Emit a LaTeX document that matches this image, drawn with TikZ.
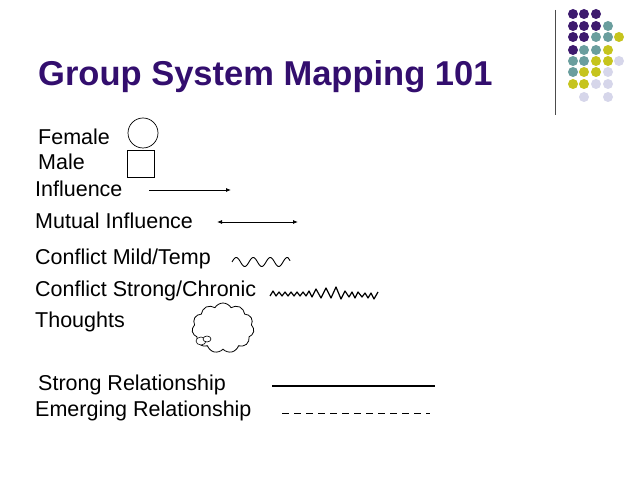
\documentclass[tikz,border=0pt]{standalone}
\usepackage{fontspec}
\setmainfont{Liberation Sans}
\usetikzlibrary{shapes.symbols,decorations.pathmorphing,arrows.meta}
\definecolor{tpurple}{HTML}{330E6E}
\definecolor{dP}{HTML}{3D1A6E}
\definecolor{dT}{HTML}{6A9E9E}
\definecolor{dY}{HTML}{C6C41E}
\definecolor{dL}{HTML}{D6D6EA}
\begin{document}
\begin{tikzpicture}[x=1pt,y=-1pt,
  lbl/.style={anchor=west,inner sep=0pt,font=\fontsize{21.5}{24}\selectfont},
  dot/.style={circle,inner sep=0pt,minimum size=10pt},
  arr/.style={-{Latex[length=5pt,width=4pt]},line width=0.8pt}]
\useasboundingbox (0,0) rectangle (638,478);
% decoration
\draw[line width=0.8pt,black!70] (555,10) -- (555,115);
\foreach \r/\y/\cols in {1/14/{573/dP,584/dP,596/dP},
  2/26/{573/dP,584/dP,596/dP,608/dT},
  3/37/{573/dP,584/dP,596/dT,608/dT,619/dY},
  4/50/{573/dP,584/dT,596/dT,608/dY},
  5/61/{573/dT,584/dT,596/dY,608/dY,619/dL},
  6/72/{573/dT,584/dY,596/dY,608/dL},
  7/84/{573/dY,584/dY,596/dL,608/dL},
  8/97/{584/dL,608/dL}}{
  \foreach \x/\c in \cols {\fill[\c] (\x,\y) circle (5);}
}
\node[anchor=west,inner sep=0pt,text=tpurple,font=\fontsize{34.5}{38}\selectfont\bfseries] (title) at (38,77) {Group System Mapping 101};
\node[lbl] (female) at (38,137) {Female};
\node[draw,circle,minimum size=30pt,inner sep=0pt,line width=0.7pt] (circ) at (143,133) {};
\node[lbl] (male) at (38,162) {Male};
\node[draw,minimum size=27pt,inner sep=0pt,line width=0.7pt] (sq) at (140.5,164) {};
\node[lbl] (infl) at (35,189) {Influence};
\coordinate (i1) at (149,190); \coordinate (i2) at (231,190);
\draw[arr] (i1) -- (i2);
\node[lbl] (mut) at (35,221) {Mutual Influence};
\coordinate (m1) at (217,222); \coordinate (m2) at (298,222);
\draw[arr,{Latex[length=5pt,width=4pt]}-{Latex[length=5pt,width=4pt]}] (m1) -- (m2);
\node[lbl] (mild) at (35,259) {Conflict Mild/Temp};
\draw[line width=0.9pt] plot[domain=0:3.3,samples=80,smooth] ({232+\x*17},{262-4.5*sin(\x*360)}) -- ++(2,3);
\node[lbl] (strong) at (35,291) {Conflict Strong/Chronic};
\draw[line width=1.2pt,line join=round] (270,296) -- (273,291) -- (276,296) -- (279,292) -- (282,296) -- (285,292) -- (288,296) -- (291,292) -- (294,296) -- (297,292) -- (300,296) -- (303,292) -- (306,296) -- (309,291) -- (312,297) -- (316,289) -- (321,298) -- (326,288) -- (331,298) -- (336,287) -- (341,299) -- (345,291) -- (349,297) -- (352,292) -- (355,298) -- (358,292) -- (362,297) -- (365,293) -- (368,298) -- (371,293) -- (374,299) -- (378,292);
\node[lbl] (thoughts) at (35,322) {Thoughts};
\node[cloud,draw,line width=0.8pt,cloud puffs=11,cloud puff arc=120,aspect=1.2,minimum width=62pt,minimum height=50pt] (cloud) at (223,328) {};
\draw[line width=0.6pt,fill=white] (201,341) ellipse (5 and 4);
\draw[line width=0.6pt,fill=white] (207,339) ellipse (4 and 3);
\node[lbl] (srel) at (38,385) {Strong Relationship};
\coordinate (s1) at (272,386); \coordinate (s2) at (435,386);
\draw[line width=1.2pt] (s1) -- (s2);
\node[lbl] (erel) at (35,411) {Emerging Relationship};
\coordinate (e1) at (282,413); \coordinate (e2) at (430,413);
\draw[line width=0.9pt,dash pattern=on 7pt off 5pt] (e1) -- (e2);
\end{tikzpicture}
\end{document}
